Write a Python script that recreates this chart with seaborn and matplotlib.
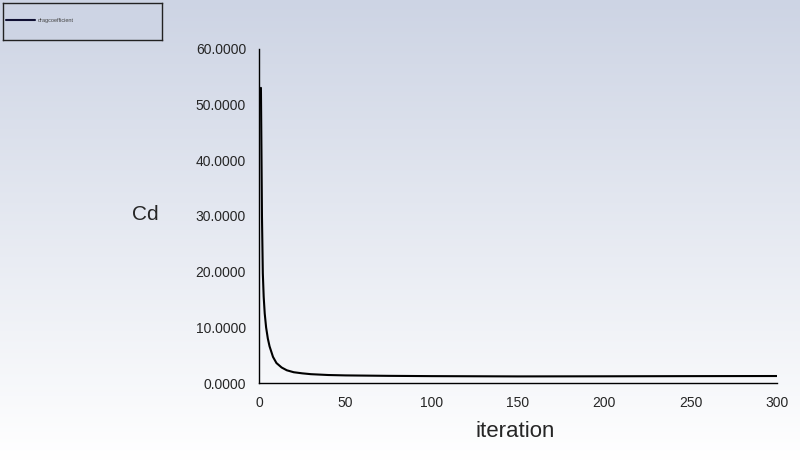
import numpy as np
import pandas as pd
import matplotlib
matplotlib.use("Agg")
import matplotlib.pyplot as plt
import seaborn as sns
from matplotlib.ticker import MultipleLocator, FormatStrFormatter

iterations = [1, 1.3, 1.6, 2.1, 2.6, 3.2, 4, 5, 6, 8, 10, 13, 16, 20, 25, 30, 40, 50, 75, 100, 150, 200, 250, 300]
cd_values = [53, 42, 30, 19.7, 15.5, 12.5, 10, 8, 6.6, 4.7, 3.6, 2.8, 2.3, 1.95, 1.75, 1.6, 1.45, 1.38, 1.3, 1.25, 1.2, 1.22, 1.25, 1.27]
df = pd.DataFrame({"iteration": iterations, "Cd": cd_values})

sns.set_style("white")
plt.rcParams["font.family"] = ["Liberation Sans", "DejaVu Sans"]

fig = plt.figure(figsize=(8, 4.61), dpi=100)
bg = fig.add_axes([0, 0, 1, 1], zorder=-10)
top = np.array([205, 212, 228]) / 255
bot = np.array([255, 255, 255]) / 255
t = np.linspace(0, 1, 256)[:, None]
grad = top[None, :] * (1 - t) + bot[None, :] * t
bg.imshow(grad[:, None, :], aspect="auto", extent=[0, 1, 0, 1])
bg.axis("off")

ax = fig.add_axes([0.324, 0.169, 0.647, 0.725])
ax.patch.set_alpha(0)
sns.lineplot(data=df, x="iteration", y="Cd", ax=ax, color="black", linewidth=1.5, legend=False)
ax.set_xlim(0, 300)
ax.set_ylim(0, 60)
for s in ["top", "right"]:
    ax.spines[s].set_visible(False)
for s in ["left", "bottom"]:
    ax.spines[s].set_color("black")
    ax.spines[s].set_linewidth(1)
ax.yaxis.set_major_locator(MultipleLocator(10))
ax.yaxis.set_minor_locator(MultipleLocator(2))
ax.xaxis.set_major_locator(MultipleLocator(50))
ax.xaxis.set_minor_locator(MultipleLocator(25))
ax.yaxis.set_major_formatter(FormatStrFormatter("%.4f"))
ax.tick_params(axis="both", which="major", direction="out", length=6, width=1, labelsize=10, color="black")
ax.tick_params(axis="both", which="minor", direction="out", length=3, width=1, color="black")
ax.tick_params(axis="y", which="minor", length=4)
ax.set_xlabel("")
ax.set_ylabel("")
fig.text(0.182, 0.535, "Cd", fontsize=15, ha="center", va="center")
fig.text(0.644, 0.063, "iteration", fontsize=16, ha="center", va="center")

# legend box
lg = fig.add_axes([0.004, 0.914, 0.198, 0.08])
lg.set_xticks([]); lg.set_yticks([])
lg.set_facecolor((205/255, 212/255, 228/255))
for s in lg.spines.values():
    s.set_color("#222222"); s.set_linewidth(1)
lg.set_xlim(0, 1); lg.set_ylim(0, 1)
lg.plot([0.02, 0.2], [0.52, 0.52], color="#111133", lw=1.5)
lg.text(0.22, 0.52, "dragcoefficient", fontsize=4, va="center", color="#444444")

fig.savefig("out.png", dpi=100)
